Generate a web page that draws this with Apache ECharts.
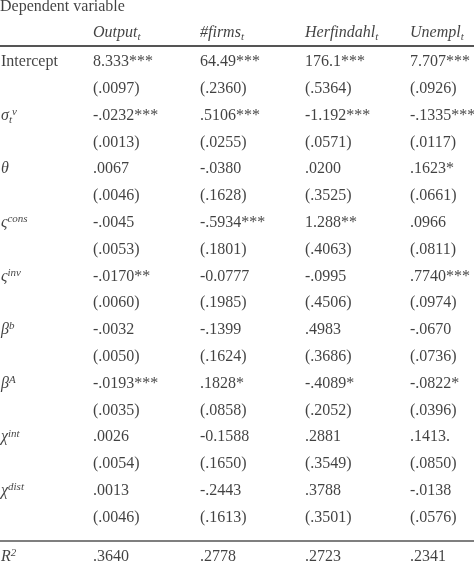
<!DOCTYPE html>
<html>
<head>
<meta charset="UTF-8">
<script src="https://cdn.jsdelivr.net/npm/echarts@6/dist/echarts.min.js"></script>
</head>
<body style="margin:0;background:#fff;">
<div id="tbl" style="width:474px;height:566px;"></div>
<script>
// table contents
var headers = ['{i|Output}{sub|t}', '{i|#firms}{sub|t}', '{i|Herfindahl}{sub|t}', '{i|Unempl}{sub|t}'];
var rowLabels = ['{n|Intercept}', '{i|σ}{sub|t}{sup|ν}', '{i|θ}', '{i|ς}{sup|cons}', '{i|ς}{sup|inv}',
  '{i|β}{sup|b}', '{i|β}{sup|A}', '{i|χ}{sup|int}', '{i|χ}{sup|dist}'];
var coefOutput = ['8.333***', '-.0232***', '.0067', '-.0045', '-.0170**', '-.0032', '-.0193***', '.0026', '.0013'];
var seOutput = ['(.0097)', '(.0013)', '(.0046)', '(.0053)', '(.0060)', '(.0050)', '(.0035)', '(.0054)', '(.0046)'];
var coefFirms = ['64.49***', '.5106***', '-.0380', '-.5934***', '-0.0777', '-.1399', '.1828*', '-0.1588', '-.2443'];
var seFirms = ['(.2360)', '(.0255)', '(.1628)', '(.1801)', '(.1985)', '(.1624)', '(.0858)', '(.1650)', '(.1613)'];
var coefHerf = ['176.1***', '-1.192***', '.0200', '1.288**', '-.0995', '.4983', '-.4089*', '.2881', '.3788'];
var seHerf = ['(.5364)', '(.0571)', '(.3525)', '(.4063)', '(.4506)', '(.3686)', '(.2052)', '(.3549)', '(.3501)'];
var coefUnempl = ['7.707***', '-.1335***', '.1623*', '.0966', '.7740***', '-.0670', '-.0822*', '.1413.', '-.0138'];
var seUnempl = ['(.0926)', '(.0117)', '(.0661)', '(.0811)', '(.0974)', '(.0736)', '(.0396)', '(.0850)', '(.0576)'];
var r2 = ['.3640', '.2778', '.2723', '.2341'];

// layout
var colX = [1, 93, 200, 305, 410];
var headerRow = -1.08, r2Row = 18.45;
var cols = [[coefOutput, seOutput], [coefFirms, seFirms], [coefHerf, seHerf], [coefUnempl, seUnempl]];

var cells = [];
cells.push([0, -2.05, '{n|Dependent variable}']);
headers.forEach(function (h, c) { cells.push([colX[c + 1], headerRow, h]); });
rowLabels.forEach(function (lab, r) {
  cells.push([colX[0], r * 2, lab]);
  cols.forEach(function (col, c) {
    cells.push([colX[c + 1], r * 2, '{n|' + col[0][r] + '}']);
    cells.push([colX[c + 1], r * 2 + 1, '{n|' + col[1][r] + '}']);
  });
});
cells.push([colX[0], r2Row, '{i|R}{sup|2}']);
r2.forEach(function (v, c) { cells.push([colX[c + 1], r2Row, '{n|' + v + '}']); });

var font = 'Liberation Serif';
var rich = {
  n: { fontFamily: font, fontSize: 16, color: '#111', lineHeight: 22, verticalAlign: 'middle' },
  i: { fontFamily: font, fontSize: 16, fontStyle: 'italic', color: '#111', lineHeight: 22, verticalAlign: 'middle' },
  sub: { fontFamily: font, fontSize: 11, fontStyle: 'italic', color: '#111', lineHeight: 22, verticalAlign: 'bottom', padding: [0, 0, 1, 0] },
  sup: { fontFamily: font, fontSize: 11, fontStyle: 'italic', color: '#111', lineHeight: 22, verticalAlign: 'top', padding: [2, 0, 0, 0] }
};

var chart = echarts.init(document.getElementById('tbl'));
chart.setOption({
  animation: false,
  grid: { left: 0, right: 0, top: 0, bottom: 0 },
  xAxis: { type: 'value', min: 0, max: 474, show: false },
  yAxis: { type: 'value', min: -2.313, max: 18.806, inverse: true, show: false },
  series: [{
    type: 'scatter',
    symbolSize: 0,
    data: cells,
    label: {
      show: true, position: 'right', distance: 0,
      formatter: function (p) { return p.data[2]; },
      rich: rich
    },
    markLine: {
      silent: true, symbol: 'none', label: { show: false },
      data: [
        { yAxis: -0.6, lineStyle: { color: '#555', width: 2, type: 'solid' } },
        { yAxis: 17.87, lineStyle: { color: '#555', width: 1.5, type: 'solid' } }
      ]
    }
  }]
});
</script>
</body>
</html>
